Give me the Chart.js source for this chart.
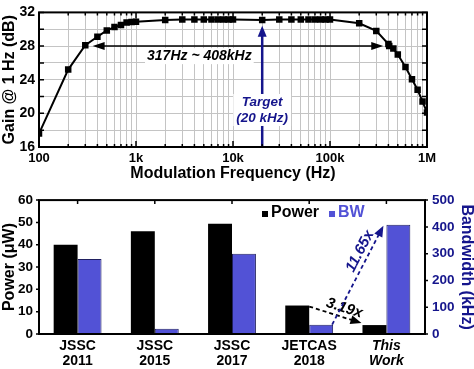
<!DOCTYPE html>
<html><head><meta charset="utf-8">
<script src="https://cdn.jsdelivr.net/npm/chart.js@4/dist/chart.umd.min.js"></script>
<style>
html,body{margin:0;padding:0;background:#fff;}
#wrap{position:relative;width:474px;height:369px;overflow:hidden;}
canvas{position:absolute;left:0;}
#c1{top:0}
#c2{top:185px}
</style></head><body>
<div id="wrap"><canvas id="c1" width="474" height="185"></canvas><canvas id="c2" width="474" height="184"></canvas></div>
<script>
// ---------- data: top chart ----------
const freqHz = [100,200,300,400,500,600,700,800,900,1000,
  2000,3000,4000,5000,6000,7000,8000,9000,10000,
  20000,30000,40000,50000,60000,70000,80000,90000,100000,
  200000,300000,400000,408000,450000,500000,600000,700000,800000,900000,1000000];
const gainDb = [17.6,25.2,28.1,29.1,29.85,30.25,30.5,30.8,30.85,30.9,
  31.1,31.15,31.15,31.15,31.15,31.15,31.15,31.15,31.15,
  31.1,31.15,31.15,31.15,31.15,31.15,31.15,31.15,31.15,
  30.7,29.8,28.25,28.0,27.7,27.0,25.5,24.05,22.8,21.4,20.1];
const xTickDecades = [100,1000,10000,100000,1000000];
const xTickLabels = ['100','1k','10k','100k','1M'];
const bandEdgesHz = [317, 408000];
const bandLevelDb = 28;
const bandLabel = '317Hz ~ 408kHz';
const targetHz = 20000;
const targetLabel = ['Target','(20 kHz)'];

// ---------- data: bottom chart ----------
const venues = [['JSSC','2011'],['JSSC','2015'],['JSSC','2017'],['JETCAS','2018'],['This','Work']];
const powerUW = [40, 46, 49.4, 12.76, 4];
const bwKHz = [280, 20, 300, 35, 408];
const powerRatioLabel = '3.19x';
const bwRatioLabel = '11.65x';

const FONT = "'Liberation Sans', Arial, Helvetica, sans-serif";
const NAVY = '#15158c';
const BLUE = '#5252d6';

function head(ctx, x1, y1, x2, y2, len, half, color) {
  const a = Math.atan2(y2 - y1, x2 - x1);
  const c = Math.cos(a), s = Math.sin(a);
  ctx.save(); ctx.fillStyle = color; ctx.setLineDash([]);
  ctx.beginPath();
  ctx.moveTo(x2, y2);
  ctx.lineTo(x2 - len * c + half * s, y2 - len * s - half * c);
  ctx.lineTo(x2 - len * c - half * s, y2 - len * s + half * c);
  ctx.closePath(); ctx.fill(); ctx.restore();
}
function line(ctx, x1, y1, x2, y2, color, width, dash) {
  ctx.save(); ctx.strokeStyle = color; ctx.lineWidth = width; ctx.setLineDash(dash || []);
  ctx.beginPath(); ctx.moveTo(x1, y1); ctx.lineTo(x2, y2); ctx.stroke(); ctx.restore();
}
function shorten(x1, y1, x2, y2, d) {
  const L = Math.hypot(x2 - x1, y2 - y1);
  return [x2 - (x2 - x1) / L * d, y2 - (y2 - y1) / L * d];
}

// ---------- top chart ----------
const minorTicks = [];
for (let e = 2; e < 6; e++) for (let m = 1; m < 10; m++) minorTicks.push(m * Math.pow(10, e));
minorTicks.push(1e6);

const topDeco = {
  id: 'topDeco',
  afterDatasetsDraw(chart) {
    const { ctx, scales: { x, y }, chartArea: ca } = chart;
    // band double arrow
    const yb = y.getPixelForValue(bandLevelDb);
    const xa = x.getPixelForValue(bandEdgesHz[0]) + 5;
    const xb = x.getPixelForValue(bandEdgesHz[1]) - 6;
    line(ctx, xa + 8, yb, xb - 8, yb, '#000', 1.6);
    head(ctx, xb, yb, xa, yb, 12, 4, '#000');
    head(ctx, xa, yb, xb, yb, 12, 4, '#000');
    ctx.save();
    ctx.font = `italic bold 14px ${FONT}`;
    ctx.textAlign = 'center'; ctx.textBaseline = 'middle';
    const tx = x.getPixelForValue(4500), ty = y.getPixelForValue(26.8);
    const tw = ctx.measureText(bandLabel).width;
    ctx.fillStyle = '#fff'; ctx.fillRect(tx - tw / 2 - 2, ty - 8, tw + 4, 16);
    ctx.fillStyle = '#000'; ctx.fillText(bandLabel, tx, ty);
    ctx.restore();
    // target arrow
    const xt = x.getPixelForValue(targetHz);
    const yTip = y.getPixelForValue(30.4);
    line(ctx, xt, ca.bottom, xt, yTip + 8, NAVY, 2.5);
    head(ctx, xt, ca.bottom, xt, yTip, 11, 4.5, NAVY);
    ctx.save();
    ctx.font = `italic bold 13.5px ${FONT}`;
    ctx.textAlign = 'center'; ctx.textBaseline = 'middle';
    const cy = y.getPixelForValue(20.4);
    const w = Math.max(...targetLabel.map(t => ctx.measureText(t).width));
    ctx.fillStyle = '#fff'; ctx.fillRect(xt - w / 2 - 3, cy - 16, w + 6, 32);
    ctx.fillStyle = NAVY;
    ctx.fillText(targetLabel[0], xt, cy - 7.5);
    ctx.fillText(targetLabel[1], xt, cy + 8);
    ctx.restore();
  },
  afterDraw(chart) {
    const { ctx, scales: { x, y }, chartArea: ca } = chart;
    ctx.save();
    ctx.strokeStyle = '#000'; ctx.lineWidth = 1.5;
    ctx.beginPath();
    for (let v = 16; v <= 32; v += 2) {
      const py = y.getPixelForValue(v);
      ctx.moveTo(ca.left, py); ctx.lineTo(ca.left + 5, py);
      ctx.moveTo(ca.right, py); ctx.lineTo(ca.right - 5, py);
    }
    minorTicks.forEach(v => {
      const px = x.getPixelForValue(v);
      const L = xTickDecades.includes(v) ? 6 : 3;
      ctx.moveTo(px, ca.bottom); ctx.lineTo(px, ca.bottom - L);
      ctx.moveTo(px, ca.top); ctx.lineTo(px, ca.top + L);
    });
    ctx.stroke();
    ctx.lineWidth = 2;
    ctx.strokeRect(ca.left, ca.top, ca.right - ca.left, ca.bottom - ca.top);
    ctx.restore();
  }
};

new Chart(document.getElementById('c1'), {
  type: 'line',
  data: {
    datasets: [{
      data: freqHz.map((f, i) => ({ x: f, y: gainDb[i] })),
      borderColor: '#000', borderWidth: 2,
      pointStyle: 'rect', pointRadius: 4.6,
      pointBackgroundColor: '#000', pointBorderColor: '#000', pointBorderWidth: 0,
      tension: 0
    }]
  },
  options: {
    responsive: false, animation: false, devicePixelRatio: 1,
    layout: { padding: { top: 6, right: 47, left: 0, bottom: 0 } },
    plugins: { legend: { display: false }, tooltip: { enabled: false } },
    scales: {
      x: {
        type: 'logarithmic', min: 100, max: 1e6,
        afterBuildTicks: s => { s.ticks = minorTicks.map(v => ({ value: v })); },
        afterFit: s => { s.height = 38; },
        grid: { color: '#c4c4c4', lineWidth: 1, drawTicks: false },
        border: { display: false },
        ticks: {
          autoSkip: false, maxRotation: 0, padding: 4, color: '#000',
          font: { family: FONT, size: 13, weight: 'bold' },
          callback: v => { const i = xTickDecades.indexOf(v); return i >= 0 ? xTickLabels[i] : ''; }
        },
        title: { display: true, text: 'Modulation Frequency (Hz)', color: '#000',
          font: { family: FONT, size: 16, weight: 'bold' }, padding: { top: 0, bottom: 2 } }
      },
      y: {
        min: 16, max: 32,
        afterFit: s => { s.width = 39; },
        grid: { color: '#c4c4c4', lineWidth: 1, drawTicks: false },
        border: { display: false },
        ticks: {
          stepSize: 2, padding: 4, color: '#000', autoSkip: false,
          font: { family: FONT, size: 14, weight: 'bold' },
          callback: v => (v % 4 === 0 ? String(v) : '')
        },
        title: { display: true, text: 'Gain @ 1 Hz (dB)', color: '#000',
          font: { family: FONT, size: 16, weight: 'bold' }, padding: { top: 0, bottom: 0 } }
      }
    }
  },
  plugins: [topDeco]
});

// ---------- bottom chart ----------
const botDeco = {
  id: 'botDeco',
  afterDatasetsDraw(chart) {
    const { ctx } = chart;
    const p = chart.getDatasetMeta(0).data, b = chart.getDatasetMeta(1).data;
    // power ratio arrow (JETCAS -> This Work)
    const p3 = p[3].getProps(['x', 'y', 'width'], true), p4 = p[4].getProps(['x', 'y', 'width'], true);
    const b3 = b[3].getProps(['x', 'y', 'width'], true), b4 = b[4].getProps(['x', 'y', 'width'], true);
    let x1 = p3.x + p3.width / 2, y1 = p3.y + 1, x2 = p4.x - p4.width / 2 - 1, y2 = p4.y - 2;
    let [ex, ey] = shorten(x1, y1, x2, y2, 8);
    line(ctx, x1, y1, ex, ey, '#000', 1.8, [4, 3]);
    head(ctx, x1, y1, x2, y2, 11, 4.5, '#000');
    let a = Math.atan2(y2 - y1, x2 - x1);
    let mx = x1 + (x2 - x1) * 0.62, my = y1 + (y2 - y1) * 0.62;
    ctx.save();
    ctx.translate(mx + 9 * Math.sin(a), my - 9 * Math.cos(a)); ctx.rotate(a);
    ctx.font = `italic bold 15px ${FONT}`; ctx.fillStyle = '#000';
    ctx.textAlign = 'center'; ctx.textBaseline = 'middle';
    ctx.fillText(powerRatioLabel, 0, 0);
    ctx.restore();
    // bandwidth ratio arrow
    x1 = b3.x + b3.width / 2 - 1; y1 = b3.y; x2 = b4.x - b4.width / 2 - 3; y2 = b4.y + 1;
    [ex, ey] = shorten(x1, y1, x2, y2, 8);
    line(ctx, x1, y1, ex, ey, NAVY, 1.8, [4, 3]);
    head(ctx, x1, y1, x2, y2, 11, 4.5, NAVY);
    a = Math.atan2(y2 - y1, x2 - x1);
    mx = x1 + (x2 - x1) * 0.70; my = y1 + (y2 - y1) * 0.70;
    ctx.save();
    ctx.translate(mx + 9 * Math.sin(a), my - 9 * Math.cos(a)); ctx.rotate(a);
    ctx.font = `italic bold 15px ${FONT}`; ctx.fillStyle = NAVY;
    ctx.textAlign = 'center'; ctx.textBaseline = 'middle';
    ctx.fillText(bwRatioLabel, 0, 0);
    ctx.restore();
    // legend
    ctx.save();
    ctx.font = `bold 16px ${FONT}`; ctx.textBaseline = 'middle'; ctx.textAlign = 'left';
    const ly = 27.5;
    const items = chart.data.datasets.map(d => ({ label: d.label, color: d.backgroundColor, tc: d.legendText }));
    let lx = 262;
    items.forEach((it, i) => {
      ctx.fillStyle = it.color; ctx.fillRect(lx, ly - 1.5, 6, 6);
      ctx.fillStyle = it.tc; ctx.fillText(it.label, lx + 9, ly);
      lx += 9 + ctx.measureText(it.label).width + 10;
    });
    ctx.restore();
  },
  afterDraw(chart) {
    const { ctx, scales: { x, y, y2 }, chartArea: ca } = chart;
    ctx.save();
    ctx.strokeStyle = '#000'; ctx.lineWidth = 1.5;
    ctx.beginPath();
    for (let v = 0; v <= 60; v += 10) { const py = y.getPixelForValue(v); ctx.moveTo(ca.left, py); ctx.lineTo(ca.left - 3, py); }
    for (let v = 0; v <= 500; v += 100) { const py = y2.getPixelForValue(v); ctx.moveTo(ca.right, py); ctx.lineTo(ca.right + 3, py); }
    for (let i = 0; i < venues.length; i++) { const px = x.getPixelForValue(i); ctx.moveTo(px, ca.top); ctx.lineTo(px, ca.top + 4); }
    ctx.stroke();
    ctx.lineWidth = 2;
    ctx.strokeRect(ca.left, ca.top, ca.right - ca.left, ca.bottom - ca.top);
    ctx.restore();
  }
};

new Chart(document.getElementById('c2'), {
  type: 'bar',
  data: {
    labels: venues,
    datasets: [
      { label: 'Power', data: powerUW, backgroundColor: '#000', legendText: '#000',
        yAxisID: 'y', barPercentage: 1, categoryPercentage: 0.62 },
      { label: 'BW', data: bwKHz, backgroundColor: BLUE, legendText: BLUE, borderColor: '#202060', borderWidth: 1,
        yAxisID: 'y2', barPercentage: 1, categoryPercentage: 0.62 }
    ]
  },
  options: {
    responsive: false, animation: false, devicePixelRatio: 1,
    layout: { padding: { top: 8, right: 0, left: 0, bottom: 0 } },
    plugins: { legend: { display: false }, tooltip: { enabled: false } },
    scales: {
      x: {
        afterFit: s => { s.height = 35; },
        grid: { display: false, drawTicks: false }, border: { display: false },
        ticks: {
          padding: 4, color: '#000', maxRotation: 0, autoSkip: false,
          font: c => ({ family: FONT, size: 14, weight: 'bold', lineHeight: 1.12,
            style: c.index === venues.length - 1 ? 'italic' : 'normal' })
        }
      },
      y: {
        position: 'left', min: 0, max: 60,
        afterFit: s => { s.width = 39; },
        grid: { display: false, drawTicks: false }, border: { display: false },
        ticks: { stepSize: 10, padding: 6, color: '#000', font: { family: FONT, size: 13.5, weight: 'bold' } },
        title: { display: true, text: 'Power (μW)', color: '#000',
          font: { family: FONT, size: 16, weight: 'bold' }, padding: { top: 0, bottom: 0 } }
      },
      y2: {
        position: 'right', min: 0, max: 500,
        afterFit: s => { s.width = 49; },
        grid: { display: false, drawTicks: false }, border: { display: false },
        ticks: { stepSize: 100, padding: 7, color: NAVY, font: { family: FONT, size: 13.5, weight: 'bold' } },
        title: { display: true, text: 'Bandwidth (kHz)', color: NAVY,
          font: { family: FONT, size: 16, weight: 'bold', lineHeight: 1 }, padding: { top: 0, bottom: 0 } }
      }
    }
  },
  plugins: [botDeco]
});
</script>
</body></html>
